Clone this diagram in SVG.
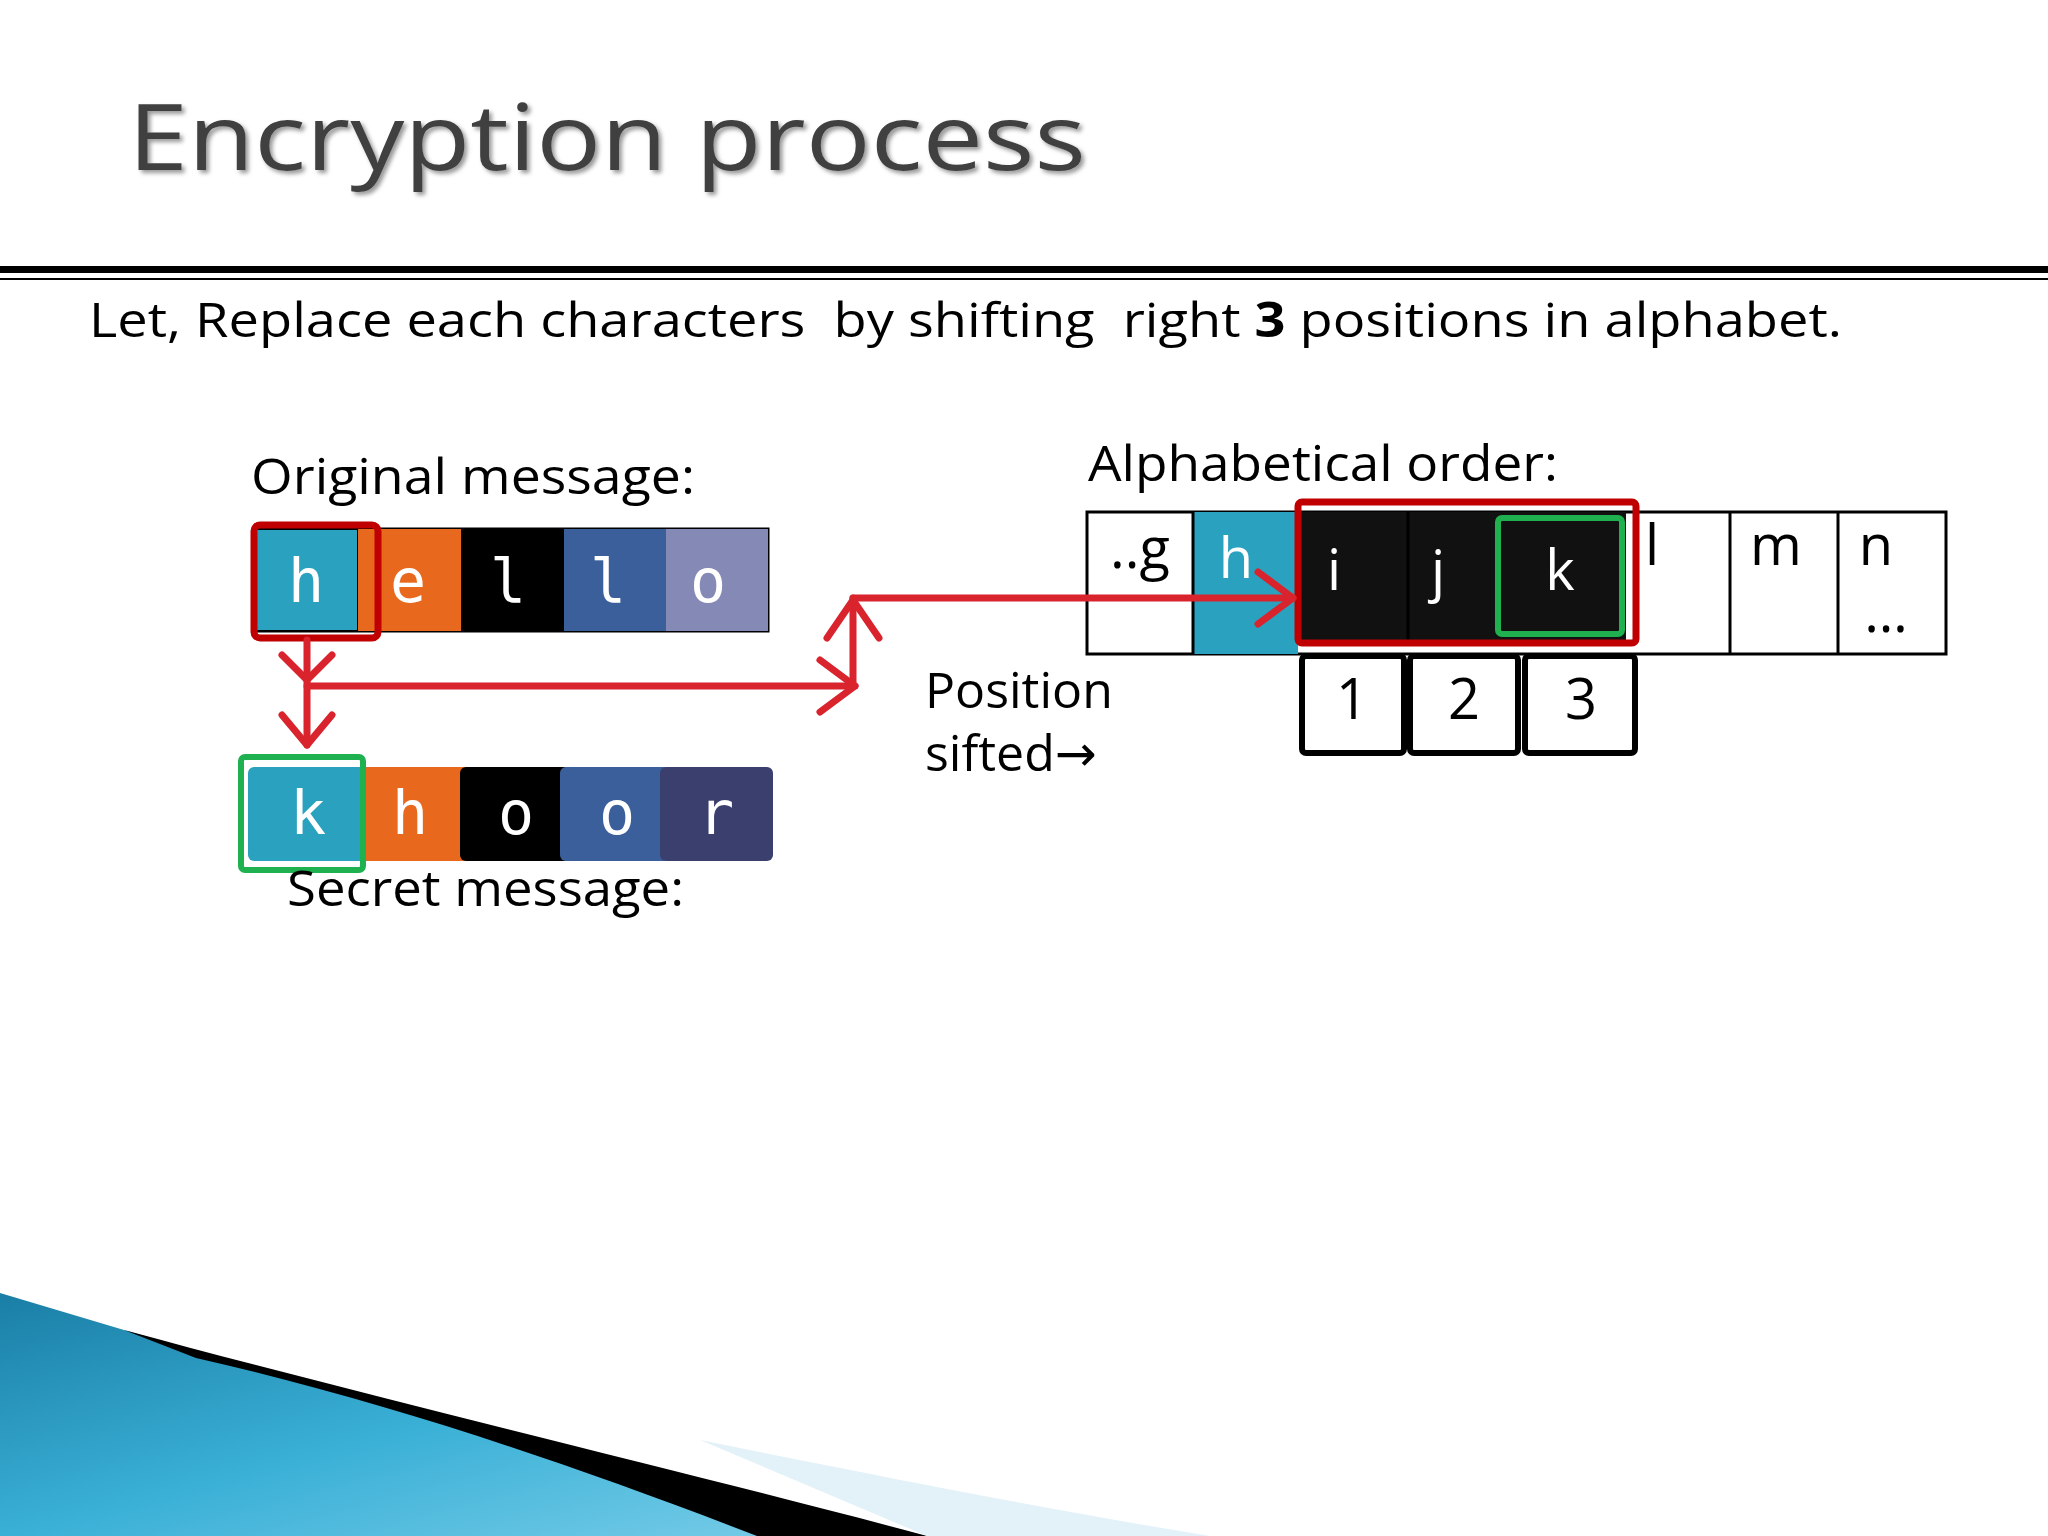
<svg xmlns="http://www.w3.org/2000/svg" width="2048" height="1536" viewBox="0 0 2048 1536">
<defs>
<style>
.t{font-family:"Open Sans","DejaVu Sans",sans-serif;fill:#000}
.m{font-family:"DejaVu Sans Mono","Liberation Mono",monospace;fill:#fff;font-size:60px;text-anchor:middle}
.a{font-family:"Open Sans","DejaVu Sans",sans-serif;font-size:56px;text-anchor:middle}
.r{fill:none;stroke:#d9232d;stroke-width:7;stroke-linecap:round;stroke-linejoin:round}
.num{fill:#fff;stroke:#000;stroke-width:6}
</style>
<linearGradient id="bg" x1="0" y1="0" x2="1" y2="1">
<stop offset="0" stop-color="#1a7ea6"/><stop offset="0.5" stop-color="#3ab0d6"/><stop offset="1" stop-color="#7ed0ea"/>
</linearGradient>
<filter id="sh"><feDropShadow dx="3" dy="3" stdDeviation="2" flood-color="#999"/></filter>
</defs>
<rect width="2048" height="1536" fill="#fff"/>
<text x="128" y="170" class="t" font-size="92" style="fill:#404040" filter="url(#sh)" textLength="958" lengthAdjust="spacingAndGlyphs">Encryption process</text>
<rect x="0" y="266" width="2048" height="7" fill="#000"/>
<rect x="0" y="278" width="2048" height="2" fill="#000"/>
<text x="89" y="337" class="t" font-size="48" xml:space="preserve" textLength="1753" lengthAdjust="spacingAndGlyphs">Let, Replace each characters  by shifting  right <tspan font-weight="bold">3</tspan> positions in alphabet.</text>

<g id="original">
<text x="251" y="494" class="t" font-size="50" textLength="444" lengthAdjust="spacingAndGlyphs">Original message:</text>
<rect x="255" y="529" width="513" height="102" fill="none" stroke="#000" stroke-width="3"/>
<rect x="255" y="529" width="103" height="102" fill="#2aa2bf" stroke="#000" stroke-width="2"/>
<rect x="358" y="529" width="103" height="102" fill="#e8681e"/>
<rect x="461" y="529" width="103" height="102" fill="#000"/>
<rect x="564" y="529" width="102" height="102" fill="#3a5f9b"/>
<rect x="666" y="529" width="102" height="102" fill="#8589b5"/>
<text x="306" y="602" class="m">h</text>
<text x="408" y="602" class="m">e</text>
<text x="508" y="602" class="m">l</text>
<text x="608" y="602" class="m">l</text>
<text x="708" y="602" class="m">o</text>
<rect x="254" y="525" width="124" height="113" rx="6" fill="none" stroke="#c00000" stroke-width="7"/>
</g>

<g id="secret">
<rect x="248" y="767" width="130" height="94" rx="6" fill="#2aa2bf"/>
<rect x="362" y="767" width="110" height="94" rx="6" fill="#e8681e"/>
<rect x="460" y="767" width="110" height="94" rx="6" fill="#000"/>
<rect x="560" y="767" width="110" height="94" rx="6" fill="#3a5f9b"/>
<rect x="660" y="767" width="113" height="94" rx="6" fill="#3a3f6e"/>
<text x="308" y="834" class="m">k</text>
<text x="410" y="834" class="m">h</text>
<text x="516" y="834" class="m">o</text>
<text x="617" y="834" class="m">o</text>
<text x="716" y="834" class="m">r</text>
<rect x="241" y="757" width="122" height="113" rx="4" fill="none" stroke="#1fb050" stroke-width="6"/>
<text x="287" y="906" class="t" font-size="50" textLength="397" lengthAdjust="spacingAndGlyphs">Secret message:</text>
</g>

<g id="alphabet">
<text x="1088" y="481" class="t" font-size="50" textLength="470" lengthAdjust="spacingAndGlyphs">Alphabetical order:</text>
<rect x="1087" y="512" width="859" height="142" fill="#fff" stroke="#000" stroke-width="3"/>
<rect x="1193" y="512" width="105" height="142" fill="#2aa2bf"/>
<rect x="1298" y="512" width="328" height="130" fill="#111"/>
<g stroke="#000" stroke-width="3">
<line x1="1193" y1="512" x2="1193" y2="654"/>
<line x1="1408" y1="512" x2="1408" y2="640"/>
<line x1="1730" y1="512" x2="1730" y2="654"/>
<line x1="1838" y1="512" x2="1838" y2="654"/>
</g>
<text x="1140" y="568" class="a">..g</text>
<text x="1236" y="578" class="a" fill="#fff" font-size="64">h</text>
<text x="1334" y="590" class="a" fill="#fff" font-size="72">i</text>
<text x="1438" y="590" class="a" fill="#fff" font-size="72">j</text>
<text x="1560" y="590" class="a" fill="#fff" font-size="72">k</text>
<text x="1652" y="565" class="a">l</text>
<text x="1776" y="565" class="a">m</text>
<text x="1876" y="565" class="a">n</text>
<text x="1886" y="632" class="a" font-size="48">…</text>
<rect x="1298" y="502" width="338" height="141" rx="4" fill="none" stroke="#c00000" stroke-width="7"/>
<rect x="1498" y="518" width="124" height="116" rx="4" fill="none" stroke="#1fb050" stroke-width="6"/>
</g>

<g id="positions">
<rect x="1302" y="656" width="102" height="97" rx="4" class="num"/>
<rect x="1410" y="656" width="108" height="97" rx="4" class="num"/>
<rect x="1525" y="656" width="110" height="97" rx="4" class="num"/>
<text x="1352" y="719" class="a">1</text>
<text x="1464" y="719" class="a">2</text>
<text x="1581" y="719" class="a">3</text>
<text x="925" y="708" class="t" font-size="50">Position</text>
<text x="925" y="771" class="t" font-size="50">sifted→</text>
</g>

<g id="connectors">
<path d="M307,640 V745" class="r"/>
<path d="M282,655 L307,680 L332,655" class="r"/>
<path d="M282,715 L307,745 L332,715" class="r"/>
<path d="M307,686 H855" class="r"/>
<path d="M820,660 L855,686 L820,712" class="r"/>
<path d="M853,686 V598" class="r"/>
<path d="M827,638 L853,600 L879,638" class="r"/>
<path d="M853,598 H1293" class="r"/>
<path d="M1258,572 L1293,598 L1258,624" class="r"/>
</g>

<g id="swoosh">
<path d="M0,1293 L124,1330 C400,1410 700,1480 927,1536 L0,1536 Z" fill="url(#bg)"/>
<path d="M124,1330 C400,1405 700,1475 927,1536 L757,1536 C560,1460 380,1400 196,1358 Z" fill="#000"/>
<path d="M700,1440 C900,1480 1050,1510 1210,1536 L927,1536 Z" fill="#e3f2f8"/>
</g>
</svg>
